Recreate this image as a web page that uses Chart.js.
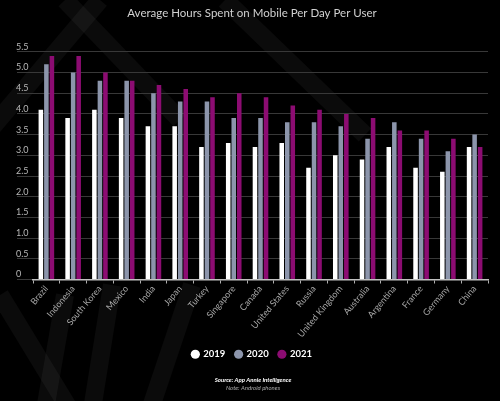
<!DOCTYPE html>
<html>
<head>
<meta charset="utf-8">
<script src="https://cdn.jsdelivr.net/npm/chart.js@4.4.0/dist/chart.umd.min.js"></script>
<style>
    html, body { margin: 0; padding: 0; background: #000; }
    #wrap { width: 500px; height: 401px; }
</style>
</head>
<body>
<div id="wrap"><canvas id="mobileChart"></canvas></div>
<script>
// ---------- Data ----------
const countries = ["Brazil", "Indonesia", "South Korea", "Mexico", "India", "Japan", "Turkey",
    "Singapore", "Canada", "United States", "Russia", "United Kingdom", "Australia",
    "Argentina", "France", "Germany", "China"];
const hours2019 = [4.1, 3.9, 4.1, 3.9, 3.7, 3.7, 3.2, 3.3, 3.2, 3.3, 2.7, 3.0, 2.9, 3.2, 2.7, 2.6, 3.2];
const hours2020 = [5.2, 5.0, 4.8, 4.8, 4.5, 4.3, 4.3, 3.9, 3.9, 3.8, 3.8, 3.7, 3.4, 3.8, 3.4, 3.1, 3.5];
const hours2021 = [5.4, 5.4, 5.0, 4.8, 4.7, 4.6, 4.4, 4.5, 4.4, 4.2, 4.1, 4.0, 3.9, 3.6, 3.6, 3.4, 3.2];
const yTickLabels = ["0", "0.5", "1.0", "1.5", "2.0", "2.5", "3.0", "3.5", "4.0", "4.5", "5.0", "5.5"];

const FONT = "Lato, 'Open Sans', sans-serif";

// ---------- Background: black with faint logo bands ----------
const backdrop = {
    id: "backdrop",
    beforeDraw(chart) {
        const ctx = chart.ctx;
        ctx.save();
        ctx.fillStyle = "#000";
        ctx.fillRect(0, 0, chart.width, chart.height);
        ctx.strokeStyle = "rgba(255,255,255,0.045)";
        ctx.lineWidth = 18;
        const bands = [
            [100, 0, -10, 130],
            [65, 0, 180, 120],
            [225, 0, 365, 135],
            [0, 295, 70, 410],
            [65, 295, 45, 410],
            [112, 285, 92, 410],
            [192, 285, 150, 410]
        ];
        bands.forEach(b => {
            ctx.beginPath();
            ctx.moveTo(b[0], b[1]);
            ctx.lineTo(b[2], b[3]);
            ctx.stroke();
        });
        ctx.restore();
    }
};

// ---------- Source note under the legend ----------
const sourceNote = {
    id: "sourceNote",
    afterDraw(chart) {
        const ctx = chart.ctx;
        ctx.save();
        ctx.textAlign = "center";
        ctx.textBaseline = "middle";
        ctx.fillStyle = "#ffffff";
        ctx.font = "italic bold 6px " + FONT;
        ctx.fillText("Source: App Annie Intelligence", 253, 380);
        ctx.fillStyle = "#aaaaaa";
        ctx.font = "italic 6px " + FONT;
        ctx.fillText("Note: Android phones", 253, 388);
        ctx.restore();
    }
};

const ctx = document.getElementById("mobileChart").getContext("2d");

const mobileChart = new Chart(ctx, {
    type: "bar",
    data: {
        labels: countries,
        datasets: [
            { label: "2019", data: hours2019, backgroundColor: "#ffffff" },
            { label: "2020", data: hours2020, backgroundColor: "#8c95ab" },
            { label: "2021", data: hours2021, backgroundColor: "#8c0c72" }
        ]
    },
    options: {
        responsive: true,
        maintainAspectRatio: false,
        animation: false,
        categoryPercentage: 0.62,
        barPercentage: 0.82,
        layout: { padding: { left: 16, right: 12, top: 0, bottom: 32 } },
        plugins: {
            title: {
                display: true,
                text: "Average Hours Spent on Mobile Per Day Per User",
                color: "#d0d0d0",
                font: { family: FONT, size: 11.5, weight: "normal" },
                padding: { top: 6, bottom: 32 }
            },
            legend: {
                position: "bottom",
                labels: {
                    usePointStyle: true,
                    pointStyle: "circle",
                    boxWidth: 6.5,
                    boxHeight: 6.5,
                    color: "#ffffff",
                    font: { family: FONT, size: 9.5, weight: "bold" },
                    padding: 10
                }
            },
            tooltip: { enabled: false }
        },
        scales: {
            x: {
                grid: { drawOnChartArea: false, offset: true, color: "#b0b0b0", tickLength: 4 },
                border: { color: "#c0c0c0", width: 1.5 },
                ticks: {
                    color: "#a8a8a8",
                    font: { family: FONT, size: 9 },
                    minRotation: 50,
                    maxRotation: 50,
                    padding: 0
                },
                afterFit(scale) { scale.height = 60; }
            },
            y: {
                min: 0,
                max: 5.5,
                ticks: {
                    stepSize: 0.5,
                    color: "#b8b8b8",
                    font: { family: FONT, size: 9 },
                    crossAlign: "far",
                    labelOffset: -5,
                    padding: 0,
                    callback: (value, i) => yTickLabels[i]
                },
                grid: { color: "#383838", tickLength: 16 },
                border: { display: false },
                afterFit(scale) { scale.width = 17; }
            }
        }
    },
    plugins: [backdrop, sourceNote]
});
</script>
</body>
</html>
